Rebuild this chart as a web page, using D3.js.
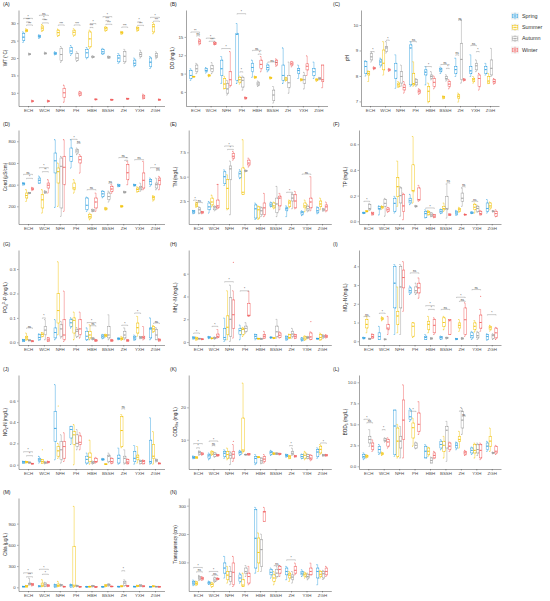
<!DOCTYPE html>
<html><head><meta charset="utf-8">
<script src="https://cdn.jsdelivr.net/npm/d3@7"></script>
<style>body{margin:0;background:#fff}svg{display:block}text{font-family:"Liberation Sans",Arial,sans-serif}</style>
</head><body><svg id="c" width="550" height="601"></svg>
<script>
const sites = ["ECH","WCH","NFH","PH","HBH","BSSH","ZH","YXH","ZGH"];
const seasons = ["Spring","Summer","Autumn","Winter"];
const seasonColors = ["#2E9FDF","#F2C200","#9A9A9A","#F05A5A"];

// each box: [low whisker, Q1, median, Q3, high whisker] per site
const wtSp=[[24.5,25.1,26.0,27.1,27.5],[25.6,25.9,26.2,26.5,26.7],[20.9,21.1,21.3,21.6,21.8],[20.8,21.3,22.0,23.0,23.6],[19.8,20.2,21.5,22.5,23.0],[21.0,21.2,21.8,22.5,22.8],[18.5,18.9,20.0,20.8,21.3],[17.5,17.9,18.5,19.4,20.0],[17.0,17.5,18.8,20.0,20.4]];
const wtSu=[[27.5,27.7,27.9,28.1,28.4],[27.6,28.0,28.6,29.2,29.6],[26.2,26.5,27.3,28.0,28.3],[26.3,26.6,27.4,28.0,28.4],[22.8,23.2,25.5,27.5,28.0],[27.7,27.9,28.4,28.8,29.1],[26.8,27.0,27.3,27.5,27.7],[27.7,28.0,28.4,28.8,29.0],[27.0,27.5,29.0,29.7,30.2]];
const wtAu=[[20.8,21.0,21.1,21.2,21.4],[21.0,21.2,21.3,21.5,21.7],[18.8,19.3,21.0,22.8,23.3],[19.0,19.3,20.0,21.3,21.8],[20.0,20.2,20.3,20.5,20.7],[19.9,20.0,20.2,20.4,20.6],[18.4,18.9,20.5,21.8,22.5],[20.0,20.5,21.0,21.5,22.3],[19.8,20.2,20.6,21.3,21.8]];
const wtWi=[[7.3,7.5,7.6,7.7,7.9],[7.3,7.5,7.6,7.7,7.9],[7.3,8.7,10.0,11.3,12.2],[9.1,9.3,9.7,10.2,10.4],[7.9,8.0,8.1,8.2,8.3],[7.8,7.9,8.0,8.1,8.2],[8.1,8.2,8.3,8.4,8.5],[8.2,8.4,8.8,9.3,9.6],[7.8,7.9,8.0,8.1,8.3]];

const doSp=[[7.9,8.2,8.7,9.5,9.8],[9.1,9.3,9.5,9.8,10.0],[7.4,8.7,9.8,11.2,11.8],[7.4,7.9,15.4,15.6,17.2],[8.4,9.3,10.0,10.7,11.2],[9.3,9.6,10.0,10.4,10.6],[7.4,7.9,8.7,10.4,13.2],[8.2,9.0,9.5,9.8,10.4],[8.2,8.7,9.3,9.8,10.9]];
const doSu=[[8.4,8.45,8.5,8.55,8.6],[8.5,8.6,8.7,8.8,8.9],[6.5,6.6,7.3,8.2,8.6],[7.3,7.6,8.0,8.4,8.6],[8.2,8.3,8.4,8.5,8.6],[8.1,8.2,8.3,8.4,8.5],[7.8,7.9,8.1,8.3,8.4],[7.8,7.9,8.0,8.1,8.2],[7.7,7.9,8.0,8.1,8.2]];
const doAu=[[9.0,9.3,9.8,10.4,10.7],[9.0,9.3,9.8,10.3,10.8],[5.5,5.8,6.5,7.4,7.9],[6.3,6.8,7.9,8.4,8.6],[6.9,7.1,7.3,7.6,7.8],[4.2,4.6,5.5,6.3,6.9],[5.8,6.7,7.5,8.7,10.9],[6.5,7.4,8.0,8.7,9.2],[8.0,8.1,8.2,8.3,8.4]];
const doWi=[[13.7,13.9,14.2,14.5,14.7],[13.7,13.8,13.9,14.1,14.2],[6.8,7.1,8.0,9.3,12.6],[4.8,4.9,5.0,5.1,5.2],[9.3,9.8,10.5,11.2,11.8],[10.2,10.4,10.8,11.2,11.4],[10.1,10.4,10.6,10.9,11.0],[8.7,9.6,10.2,10.6,11.9],[6.7,7.7,8.0,10.4,10.4]];

const phSp=[[8.0,8.1,8.37,8.56,8.6],[8.35,8.43,8.55,8.63,8.7],[7.52,7.91,8.2,8.5,8.83],[7.6,7.65,9.1,9.22,9.35],[7.65,8.04,8.15,8.24,8.37],[8.1,8.17,8.24,8.3,8.35],[7.98,8.1,8.25,8.37,8.7],[7.98,8.1,8.2,8.37,8.83],[8.04,8.1,8.25,8.37,8.5]];
const phSu=[[7.78,8.04,8.1,8.17,8.2],[8.04,8.24,8.5,9.02,9.35],[7.55,7.58,7.65,7.72,7.78],[7.6,7.65,7.7,8.1,8.56],[6.95,7.0,7.4,7.58,7.72],[7.1,7.13,7.17,7.2,7.22],[6.98,7.13,7.2,7.26,7.33],[7.72,7.78,7.85,7.91,7.98],[7.7,7.72,7.8,7.98,8.1]];
const phAu=[[8.55,8.63,8.75,8.89,8.95],[8.9,8.96,9.1,9.15,9.35],[7.6,7.72,7.98,8.17,8.43],[7.6,7.65,7.75,7.85,7.9],[7.85,7.91,7.98,8.04,8.17],[7.8,7.85,7.9,7.98,8.05],[7.72,7.85,8.65,9.28,10.2],[8.17,8.24,8.4,8.5,8.63],[7.98,8.04,8.3,8.63,9.09]];
const phWi=[[8.25,8.28,8.3,8.33,8.36],[8.18,8.21,8.24,8.27,8.3],[7.33,7.45,7.55,7.65,7.78],[7.28,7.33,7.4,7.45,7.5],[7.5,7.58,7.75,7.91,8.0],[7.5,7.58,7.68,7.78,7.85],[7.8,7.82,7.85,7.88,7.9],[7.45,7.58,7.9,8.04,8.1],[7.68,7.72,7.78,7.85,7.9]];

const condSp=[[395,400,410,415,420],[410,415,440,461,480],[190,508,620,692,815],[554,615,660,738,815],[154,169,210,277,285],[280,292,315,338,345],[380,384,392,400,405],[385,390,395,400,405],[385,400,430,446,461]];
const condSu=[[246,277,300,323,354],[138,185,260,307,354],[200,415,520,554,600],[323,354,370,415,446],[77,92,105,123,138],[165,169,177,185,190],[190,195,200,205,210],[330,338,355,369,380],[250,261,280,292,300]];
const condAu=[[315,320,323,326,330],[320,323,330,338,345],[108,185,569,646,661],[677,692,710,723,738],[150,154,160,169,175],[240,261,290,323,340],[320,325,330,335,340],[338,354,370,384,415],[354,369,400,415,461]];
const condWi=[[345,354,360,369,375],[323,369,395,415,446],[154,400,560,661,815],[507,600,630,661,677],[154,185,240,277,323],[320,338,360,384,400],[400,446,510,585,615],[354,369,440,508,615],[354,400,440,461,477]];

const tnSp=[[1.2,1.27,1.4,1.5,1.55],[1.27,1.6,1.9,2.3,2.45],[4.1,4.3,5.0,5.5,5.7],[4.8,4.9,5.3,5.5,5.7],[0.6,0.75,1.7,2.1,2.3],[1.9,1.95,2.1,2.3,2.4],[0.9,1.5,1.7,1.8,2.0],[1.0,1.1,1.3,1.4,1.5],[1.2,1.3,1.5,1.8,1.9]];
const tnSu=[[1.85,1.95,2.1,2.3,2.4],[1.9,2.1,2.4,2.8,3.1],[1.6,1.7,3.8,4.7,5.2],[3.2,3.2,3.4,5.9,8.8],[0.6,0.75,1.6,1.9,2.0],[1.7,1.8,2.0,2.3,2.4],[1.8,1.95,2.3,2.5,2.6],[1.4,1.8,2.0,2.3,2.6],[1.6,1.95,2.2,2.5,2.8]];
const tnAu=[[1.2,1.27,1.6,1.8,1.9],[1.5,1.6,1.8,1.95,2.0],[1.1,4.7,5.8,6.1,6.6],[5.5,5.55,5.6,5.65,5.7],[0.9,1.1,1.5,1.8,1.9],[0.9,1.3,2.2,2.8,4.0],[1.7,2.5,2.8,3.15,3.3],[1.4,1.5,1.7,1.95,2.1],[1.45,1.5,1.6,1.7,1.75]];
const tnWi=[[1.2,1.27,1.35,1.4,1.45],[1.7,1.8,2.0,2.6,4.2],[6.7,6.9,7.1,7.4,7.6],[6.0,6.2,6.4,6.7,6.9],[0.9,1.1,1.8,2.3,3.3],[1.6,2.0,2.8,3.0,3.3],[1.7,1.8,2.5,3.15,3.5],[1.5,1.8,2.4,2.8,5.0],[1.4,1.5,1.9,2.1,2.4]];

const tpSp=[[0.06,0.062,0.066,0.07,0.072],[0.05,0.091,0.1,0.117,0.12],[0.065,0.078,0.14,0.18,0.195],[0.13,0.143,0.16,0.18,0.21],[0.026,0.03,0.06,0.078,0.09],[0.06,0.065,0.078,0.09,0.095],[0.045,0.052,0.065,0.078,0.085],[0.06,0.062,0.066,0.072,0.075],[0.065,0.078,0.1,0.143,0.17]];
const tpSu=[[0.072,0.075,0.078,0.081,0.084],[0.095,0.104,0.11,0.115,0.12],[0.117,0.195,0.27,0.34,0.47],[0.143,0.23,0.24,0.44,0.66],[0.048,0.052,0.07,0.078,0.085],[0.078,0.09,0.1,0.117,0.143],[0.07,0.078,0.09,0.1,0.11],[0.065,0.091,0.11,0.13,0.143],[0.09,0.104,0.12,0.143,0.15]];
const tpAu=[[0.085,0.09,0.1,0.13,0.14],[0.04,0.117,0.14,0.17,0.18],[0.04,0.143,0.2,0.26,0.27],[0.11,0.114,0.117,0.12,0.125],[0.035,0.04,0.05,0.065,0.07],[0.026,0.091,0.1,0.195,0.29],[0.117,0.156,0.18,0.22,0.26],[0.07,0.078,0.1,0.117,0.125],[0.072,0.075,0.078,0.081,0.084]];
const tpWi=[[0.048,0.052,0.06,0.07,0.072],[0.07,0.078,0.09,0.104,0.11],[0.013,0.078,0.12,0.21,0.22],[0.156,0.165,0.17,0.26,0.28],[0.028,0.03,0.04,0.052,0.055],[0.045,0.047,0.052,0.057,0.06],[0.047,0.05,0.052,0.055,0.058],[0.048,0.052,0.06,0.078,0.085],[0.035,0.04,0.06,0.078,0.09]];

const poSp=[[0.003,0.004,0.008,0.011,0.012],[0.008,0.011,0.02,0.031,0.035],[0.011,0.018,0.04,0.059,0.093],[0.059,0.065,0.08,0.093,0.1],[0.008,0.011,0.025,0.045,0.059],[0.015,0.018,0.025,0.03,0.033],[0.011,0.013,0.015,0.017,0.02],[0.008,0.011,0.018,0.025,0.03],[0.011,0.018,0.055,0.059,0.1]];
const poSu=[[0.008,0.011,0.018,0.025,0.038],[0.022,0.025,0.032,0.038,0.04],[0.031,0.079,0.13,0.2,0.33],[0.011,0.038,0.09,0.1,0.124],[0.011,0.018,0.03,0.045,0.072],[0.022,0.025,0.028,0.031,0.034],[0.008,0.012,0.015,0.018,0.025],[0.025,0.038,0.06,0.079,0.107],[0.04,0.045,0.055,0.065,0.07]];
const poAu=[[0.005,0.006,0.008,0.01,0.011],[0.011,0.031,0.05,0.065,0.093],[0.018,0.025,0.055,0.072,0.086],[0.02,0.025,0.045,0.052,0.06],[0.01,0.012,0.015,0.018,0.02],[0.011,0.018,0.03,0.065,0.113],[0.011,0.018,0.03,0.045,0.059],[0.015,0.017,0.02,0.023,0.025],[0.011,0.011,0.03,0.052,0.06]];
const poWi=[[0.002,0.003,0.005,0.006,0.007],[0.004,0.005,0.01,0.018,0.02],[0.004,0.011,0.03,0.093,0.21],[0.018,0.031,0.055,0.093,0.124],[0.004,0.005,0.008,0.01,0.012],[0.004,0.005,0.008,0.01,0.012],[0.004,0.005,0.008,0.01,0.012],[0.01,0.015,0.02,0.025,0.065],[0.004,0.006,0.01,0.013,0.015]];

const nhSp=[[0.25,0.29,0.37,0.44,0.48],[0.3,0.35,0.4,0.47,0.5],[0.06,0.2,0.4,1.2,2.1],[0.2,0.65,1.0,1.2,1.5],[0.2,0.3,0.5,0.65,0.7],[0.33,0.36,0.4,0.44,0.47],[0.15,0.2,0.35,0.5,0.55],[0.1,0.12,0.25,0.35,0.4],[0.24,0.27,0.3,0.33,0.36]];
const nhSu=[[0.15,0.2,0.3,0.41,0.45],[0.27,0.3,0.32,0.34,0.37],[0.2,0.65,1.3,2.3,4.5],[0.5,0.65,1.1,1.2,1.3],[0.24,0.27,0.3,0.33,0.36],[0.3,0.33,0.35,0.38,0.4],[0.3,0.35,0.4,0.65,0.7],[0.15,0.2,0.35,0.5,0.55],[0.15,0.2,0.4,0.65,0.8]];
const nhAu=[[0.24,0.27,0.3,0.33,0.36],[0.25,0.3,0.35,0.4,0.45],[0.06,0.5,2.0,3.9,5.0],[0.8,0.95,1.2,1.4,1.7],[0.22,0.25,0.28,0.31,0.34],[0.35,0.5,0.9,1.4,2.0],[0.35,0.5,0.7,0.95,1.2],[0.3,0.35,0.4,0.45,0.5],[0.3,0.4,0.5,0.6,0.65]];
const nhWi=[[0.2,0.22,0.25,0.28,0.3],[0.35,0.4,0.5,0.7,1.1],[0.35,1.2,2.4,3.7,4.5],[2.25,2.3,2.35,3.4,4.45],[0.3,0.35,0.5,0.65,0.95],[0.35,0.4,0.6,0.8,0.9],[0.3,0.35,0.5,0.65,0.7],[0.2,0.25,0.45,0.8,0.9],[0.35,0.4,0.5,0.6,0.65]];

const no3Sp=[[0.12,0.14,0.17,0.2,0.22],[0.09,0.09,0.25,0.45,0.8],[0.36,1.78,3.1,4.0,4.1],[2.5,2.58,2.7,2.85,2.95],[0.09,0.09,0.2,0.27,0.36],[0.1,0.12,0.2,0.25,0.28],[0.08,0.1,0.12,0.14,0.16],[0.09,0.18,0.3,0.45,0.53],[0.05,0.09,0.25,0.36,0.4]];
const no3Su=[[0.45,0.71,0.9,1.16,1.33],[1.1,1.16,1.2,1.25,1.3],[0.45,0.9,1.35,1.6,2.9],[0.2,0.27,0.8,0.98,1.0],[0.45,0.62,0.9,1.07,1.33],[0.62,0.8,1.0,1.25,1.33],[0.53,0.71,0.85,0.98,1.16],[0.5,0.62,0.8,0.98,1.1],[0.55,0.62,0.72,0.8,0.85]];
const no3Au=[[0.09,0.11,0.13,0.15,0.17],[0.07,0.08,0.1,0.12,0.13],[0.36,1.78,2.9,4.0,4.1],[2.5,2.58,2.7,2.9,3.1],[0.1,0.12,0.15,0.18,0.2],[0.12,0.15,0.18,0.21,0.23],[0.1,0.12,0.15,0.18,0.2],[0.09,0.18,0.3,0.45,0.53],[0.1,0.15,0.3,0.35,0.4]];
const no3Wi=[[0.15,0.18,0.25,0.35,0.4],[0.36,0.62,0.7,0.9,1.33],[1.6,2.85,3.4,3.8,4.25],[2.3,2.58,2.85,3.1,3.38],[0.36,0.45,0.85,1.16,1.25],[0.36,0.36,1.1,1.16,1.16],[0.27,0.36,1.15,1.78,2.05],[0.53,0.7,1.0,1.4,1.7],[0.1,0.18,0.45,0.7,0.75]];

const no2Sp=[[0.012,0.016,0.025,0.03,0.035],[0.016,0.03,0.045,0.06,0.078],[0.047,0.22,0.34,0.5,0.75],[0.19,0.25,0.33,0.36,0.36],[0.006,0.016,0.05,0.08,0.11],[0.04,0.045,0.05,0.055,0.06],[0.006,0.016,0.06,0.09,0.156],[0.006,0.03,0.06,0.125,0.18],[0.006,0.016,0.03,0.23,0.44]];
const no2Su=[[0.015,0.02,0.025,0.03,0.035],[0.012,0.016,0.03,0.047,0.05],[0.06,0.08,0.13,0.17,0.2],[0.0,0.19,0.28,0.31,0.375],[0.006,0.03,0.07,0.11,0.23],[0.002,0.004,0.005,0.006,0.008],[0.16,0.17,0.32,0.45,0.47],[0.016,0.047,0.07,0.09,0.17],[0.006,0.06,0.08,0.19,0.31]];
const no2Au=[[0.012,0.016,0.02,0.025,0.03],[0.008,0.012,0.02,0.025,0.03],[0.016,0.047,0.14,0.22,0.28],[0.14,0.17,0.2,0.28,0.33],[0.006,0.012,0.02,0.03,0.035],[0.02,0.03,0.08,0.09,0.11],[0.006,0.016,0.06,0.08,0.14],[0.006,0.012,0.03,0.04,0.045],[0.025,0.03,0.04,0.05,0.055]];
const no2Wi=[[0.005,0.007,0.01,0.013,0.015],[0.015,0.02,0.025,0.03,0.035],[0.03,0.06,0.17,0.22,0.3],[0.14,0.19,0.21,0.27,0.3],[0.016,0.025,0.03,0.06,0.07],[0.01,0.016,0.03,0.06,0.065],[0.006,0.01,0.025,0.05,0.055],[0.006,0.01,0.03,0.04,0.045],[0.006,0.008,0.012,0.016,0.02]];

const codSp=[[4.1,4.3,4.5,4.8,5.0],[3.8,4.3,5.0,5.4,5.9],[4.3,4.8,5.8,6.4,6.9],[5.1,5.4,6.0,6.4,6.7],[2.3,2.8,4.2,4.8,5.4],[5.1,5.4,6.0,6.4,6.7],[4.6,4.8,5.1,5.4,5.6],[4.1,4.3,4.8,5.4,5.6],[4.3,4.8,6.2,7.0,7.5]];
const codSu=[[4.2,4.3,4.5,4.7,4.8],[5.2,5.4,5.9,6.4,6.6],[3.8,4.3,5.4,6.4,7.4],[5.9,6.4,6.8,16.7,27.5],[4.4,4.5,4.6,4.7,4.8],[5.4,5.5,5.7,5.9,6.0],[4.1,4.3,4.7,5.0,5.2],[3.8,4.3,5.2,5.9,6.4],[5.5,5.9,7.0,8.0,8.5]];
const codAu=[[5.2,5.4,6.0,6.4,6.6],[4.6,4.8,5.4,5.9,6.1],[2.3,4.3,5.2,5.9,6.4],[5.2,5.3,5.4,5.5,5.6],[2.6,2.8,3.5,4.3,4.5],[5.4,5.5,5.7,5.9,6.0],[5.1,5.4,5.8,6.4,7.4],[4.1,4.3,4.8,5.4,5.6],[4.9,5.0,5.2,5.4,5.5]];
const codWi=[[5.2,5.4,5.6,5.9,6.0],[4.9,5.0,5.2,5.4,5.5],[3.3,4.3,5.5,6.4,8.5],[5.2,5.3,5.5,5.7,5.8],[2.8,3.3,4.0,4.8,5.4],[5.3,5.4,5.6,5.8,5.9],[4.6,4.7,4.9,5.1,5.2],[3.5,3.8,4.3,5.2,5.4],[4.9,5.0,5.2,5.4,5.5]];

const bodSp=[[0.8,0.99,1.15,1.39,1.6],[1.4,1.59,2.0,2.38,2.6],[1.2,1.4,4.8,6.7,6.7],[5.35,5.55,5.9,6.7,6.9],[1.0,1.0,1.8,2.38,2.58],[1.98,2.18,2.6,2.98,3.17],[1.98,2.18,2.5,2.78,2.9],[1.4,1.59,1.9,2.18,2.3],[1.78,1.98,2.4,2.78,2.98]];
const bodSu=[[1.0,1.1,1.2,1.3,1.4],[1.3,1.4,1.5,1.6,1.7],[1.0,1.2,3.0,4.56,5.0],[2.4,3.37,4.6,5.16,5.75],[1.2,1.39,1.8,2.18,2.3],[1.0,1.78,2.5,2.98,3.57],[2.18,2.98,3.2,3.57,4.17],[1.0,1.59,1.9,2.58,2.78],[1.78,2.38,3.0,3.57,4.56]];
const bodAu=[[2.38,2.78,3.2,3.57,4.37],[2.9,3.0,3.1,3.3,3.4],[1.0,2.18,3.0,3.57,4.76],[2.1,2.18,2.5,2.78,2.9],[0.4,0.4,0.7,1.0,1.1],[0.6,2.18,4.3,4.76,5.36],[3.8,4.56,5.5,6.55,6.9],[1.3,1.59,2.0,2.58,2.78],[1.5,1.55,1.6,1.65,1.7]];
const bodWi=[[1.78,1.98,2.4,2.78,3.17],[2.18,2.4,2.9,3.2,3.4],[1.0,3.2,5.5,7.9,9.7],[3.8,4.17,5.0,6.35,7.7],[0.9,1.0,1.3,1.6,1.8],[1.78,1.98,2.4,2.78,2.9],[1.3,1.39,1.6,1.78,1.9],[0.8,1.0,1.9,2.58,2.78],[1.4,1.59,1.8,2.38,2.5]];

const chlaSp=[[3,6,10,14,18],[5,8,15,20,25],[2,5,20,38,45],[3,5,25,38,45],[2,4,8,12,15],[2,4,8,12,15],[3,5,10,15,18],[3,5,10,15,18],[2,4,8,12,15]];
const chlaSu=[[2,5,15,25,30],[8,15,30,60,108],[8,14,25,47,85],[0,14,30,580,1145],[3,6,10,14,18],[8,15,25,35,40],[5,8,15,20,25],[8,12,20,28,32],[5,8,15,20,25]];
const chlaAu=[[30,38,50,60,130],[10,15,35,60,70],[15,22,30,38,45],[8,12,20,28,32],[6,10,18,25,30],[15,22,35,45,55],[15,28,60,85,108],[10,15,25,35,40],[3,6,10,14,18]];
const chlaWi=[[20,28,40,52,58],[10,15,25,35,40],[3,6,10,14,18],[2,5,8,11,14],[2,4,6,8,10],[4,8,12,16,20],[8,12,18,24,28],[5,10,15,20,24],[2,4,8,12,14]];

const trSp=[[18,21,27,33,38],[22,24,28,31,34],[45,62,80,98,121],[27,33,45,56,62],[62,80,185,286,294],[45,56,65,74,80],[39,56,68,80,86],[50,56,62,68,74],[21,45,68,80,92]];
const trSu=[[18,21,26,31,34],[12,15,22,27,30],[27,39,55,68,86],[15,15,20,39,62],[68,98,135,186,204],[21,33,45,56,68],[33,45,55,62,68],[45,50,56,62,66],[45,50,58,68,72]];
const trAu=[[36,39,45,50,54],[30,33,38,45,48],[21,33,50,68,86],[50,62,68,80,89],[68,86,145,180,200],[45,50,62,74,86],[27,39,48,56,68],[39,45,50,56,62],[40,45,60,68,72]];
const trWi=[[36,39,43,47,50],[38,40,42,44,46],[15,21,65,98,121],[21,27,50,62,86],[245,245,278,280,294],[50,62,75,86,89],[56,62,72,86,98],[56,56,68,80,98],[50,56,68,80,86]];

// significance brackets: [site, season from, season to, value, label]
const wtBr=[[0,0,3,31.4,"*"],[0,1,2,30.4,"***"],[0,1,3,29.5,"***"],[1,0,3,32.3,"ns"],[1,1,2,31.2,"*"],[1,1,3,30.1,"***"],[2,1,3,29.5,"***"],[3,1,3,29.5,"***"],[4,1,3,29.9,"*"],[4,1,2,28.8,"***"],[5,0,3,31.9,"*"],[5,1,2,30.8,"***"],[5,1,3,29.7,"***"],[6,1,3,28.9,"***"],[7,1,2,30.4,"*"],[7,1,3,29.4,"***"],[8,0,3,31.7,"*"],[8,1,3,30.6,"***"]];
const doBr=[[0,0,3,15.8,"**"],[0,2,3,15.2,"ns"],[1,0,3,14.8,"*"],[1,1,3,14.3,"***"],[2,0,3,13.1,"*"],[3,0,3,18.8,"*"],[3,1,2,9.3,"*"],[4,0,3,12.8,"ns"],[4,2,3,12.2,"*"],[5,0,3,10.9,"ns"]];
const phBr=[[0,2,3,8.96,"*"],[1,2,3,9.41,"*"],[3,0,2,9.35,"ns"],[4,0,2,8.37,"*"],[5,0,3,8.45,"ns"],[5,2,3,8.3,"*"],[6,1,2,10.2,"ns"],[6,0,1,8.83,"ns"],[7,0,2,9.2,"ns"],[7,2,3,8.96,"*"]];
const condBr=[[0,0,3,495,"ns"],[0,1,3,458,"*"],[1,0,3,557,"*"],[1,1,3,520,"**"],[3,0,2,818,"*"],[3,2,3,782,"ns"],[4,0,3,354,"ns"],[5,2,3,415,"ns"],[6,0,3,650,"ns"],[6,2,3,625,"*"],[7,0,3,631,"ns"],[8,0,3,557,"*"],[8,2,3,532,"ns"]];
const tnBr=[[0,0,1,2.6,"*"],[0,1,3,2.35,"ns"],[2,0,3,8.15,"*"],[2,1,3,7.8,"*"],[6,0,2,3.4,"*"],[7,0,3,5.27,"ns"]];
const tpBr=[[0,0,2,0.156,"*"],[4,0,3,0.104,"*"],[5,2,3,0.3,"ns"],[6,2,3,0.27,"ns"],[7,0,2,0.156,"ns"]];
const poBr=[[0,1,3,0.059,"ns"],[1,1,2,0.1,"*"],[4,0,3,0.081,"*"],[4,1,3,0.068,"ns"],[6,1,3,0.07,"*"],[7,0,2,0.12,"*"],[8,1,3,0.079,"ns"]];
const nhBr=[[0,0,2,0.79,"*"],[1,1,3,1.38,"*"],[2,0,3,5.3,"*"],[3,0,3,4.5,"*"]];
const no3Br=[[0,0,2,1.33,"ns"],[1,0,2,1.5,"*"],[3,0,3,3.65,"ns"],[4,0,3,1.9,"*"],[4,1,3,1.7,"*"],[5,0,3,1.7,"ns"],[6,0,3,2.35,"*"],[6,1,3,2.14,"ns"],[7,0,3,2.76,"ns"],[8,0,3,1.42,"*"]];
const no2Br=[[0,0,3,0.122,"*"],[0,1,3,0.085,"*"],[6,1,2,0.525,"ns"]];
const codBr=[[0,0,3,8.8,"*"],[0,1,2,7.5,"*"],[1,0,3,9.6,"*"],[1,1,2,8.2,"ns"],[6,1,2,8.2,"*"],[8,1,3,9.0,"*"]];
const bodBr=[[0,0,2,5.6,"*"],[0,1,3,5.2,"ns"],[1,1,2,4.37,"*"],[3,0,2,6.55,"*"],[6,1,2,6.6,"*"],[6,2,3,6.0,"ns"]];
const chlaBr=[[0,0,3,205,"*"],[0,1,3,150,"***"],[1,0,3,255,"*"],[1,1,3,185,"*"],[6,1,2,235,"*"]];
const trBr=[[0,0,3,82,"*"],[0,1,3,67,"ns"],[1,0,3,68,"*"],[1,1,3,55,"ns"],[5,1,3,89,"ns"],[6,0,3,109,"*"]];

// individual outlying samples: [site, season, value]
const tnOut=[[1,3,4.2]], nhOut=[[2,3,7.0],[7,3,1.8]], no3Out=[[7,3,2.4]], no2Out=[[1,1,0.14],[2,1,0.55]], codOut=[[2,3,9.5]];

const panels=[
 {lab:"(A)",title:[["WT (°C)"]],data:[wtSp,wtSu,wtAu,wtWi],domain:[6.2,33.8],ticks:[10,15,20,25,30],fmt:"d",br:wtBr,out:[],row:0,col:0},
 {lab:"(B)",title:[["DO (mg/L)"]],data:[doSp,doSu,doAu,doWi],domain:[3.7,19.4],ticks:[6,9,12,15],fmt:"d",br:doBr,out:[],row:0,col:1},
 {lab:"(C)",title:[["pH"]],data:[phSp,phSu,phAu,phWi],domain:[6.82,10.59],ticks:[7,8,9,10],fmt:"d",br:phBr,out:[],row:0,col:2},
 {lab:"(D)",title:[["Cond (μS/cm)"]],data:[condSp,condSu,condAu,condWi],domain:[37,904],ticks:[200,400,600,800],fmt:"d",br:condBr,out:[],row:1,col:0},
 {lab:"(E)",title:[["TN (mg/L)"]],data:[tnSp,tnSu,tnAu,tnWi],domain:[0.14,9.79],ticks:[2.5,5,7.5],fmt:".1f",br:tnBr,out:tnOut,row:1,col:1},
 {lab:"(F)",title:[["TP (mg/L)"]],data:[tpSp,tpSu,tpAu,tpWi],domain:[-0.021,0.711],ticks:[0,0.2,0.4,0.6],fmt:".1f",br:tpBr,out:[],row:1,col:2},
 {lab:"(G)",title:[["PO"],["4","sub"],["3-","sup"],["-P (mg/L)"]],data:[poSp,poSu,poAu,poWi],domain:[-0.011,0.378],ticks:[0,0.1,0.2,0.3],fmt:".1f",br:poBr,out:[],row:2,col:0},
 {lab:"(H)",title:[["NH"],["4","sub"],["+","sup"],["-N (mg/L)"]],data:[nhSp,nhSu,nhAu,nhWi],domain:[-0.26,8.08],ticks:[0,2,4,6],fmt:"d",br:nhBr,out:nhOut,row:2,col:1},
 {lab:"(I)",title:[["NO"],["3","sub"],["-N (mg/L)"]],data:[no3Sp,no3Su,no3Au,no3Wi],domain:[-0.2,4.87],ticks:[0,1,2,3,4],fmt:"d",br:no3Br,out:no3Out,row:2,col:2},
 {lab:"(J)",title:[["NO"],["2","sub"],["-N (mg/L)"]],data:[no2Sp,no2Su,no2Au,no2Wi],domain:[-0.04,0.84],ticks:[0,0.2,0.4,0.6],fmt:".1f",br:no2Br,out:no2Out,row:3,col:0},
 {lab:"(K)",title:[["COD"],["Mn","sub"],[" (mg/L)"]],data:[codSp,codSu,codAu,codWi],domain:[0.94,30.0],ticks:[10,20],fmt:"d",br:codBr,out:codOut,row:3,col:1},
 {lab:"(L)",title:[["BOD"],["5","sub"],[" (mg/L)"]],data:[bodSp,bodSu,bodAu,bodWi],domain:[-0.32,10.87],ticks:[0,2.5,5,7.5,10],fmt:".1f",br:bodBr,out:[],row:3,col:2},
 {lab:"(M)",title:[["Chla (μg/L)"]],data:[chlaSp,chlaSu,chlaAu,chlaWi],domain:[-52,1262],ticks:[0,300,600,900],fmt:"d",br:chlaBr,out:[],row:4,col:0},
 {lab:"(N)",title:[["Transparency (cm)"]],data:[trSp,trSu,trAu,trWi],domain:[-1,327],ticks:[100,200,300],fmt:"d",br:trBr,out:[],row:4,col:1}
];

const rowTop=[10,130,250,375,498], rowBot=[106,224,345,469,591];
const colLeft=[[18.5,186,361],[18.5,188.7,359]], colRight=[[164.5,327.5,499],[164.5,331.3,501]];
const labX=[3,170,333];

const svg=d3.select("#c");
svg.append("rect").attr("width",550).attr("height",601).attr("fill","#fff");

panels.forEach(p=>{
  const ri=p.row===0?0:1;
  const L=colLeft[ri][p.col], R=colRight[ri][p.col], T=rowTop[p.row], B=rowBot[p.row];
  const x=d3.scalePoint().domain(sites).range([L,R]).padding(0.6);
  const step=x.step();
  const inner=d3.scaleBand().domain([0,1,2,3]).range([-0.375*step,0.375*step]);
  const bw=inner.bandwidth();
  const y=d3.scaleLinear().domain(p.domain).range([B,T]);
  const g=svg.append("g");

  g.append("text").attr("x",labX[p.col]).attr("y",T-4).attr("font-size",5).attr("fill","#222").text(p.lab);

  const ya=g.append("g").attr("transform",`translate(${L},0)`)
    .call(d3.axisLeft(y).tickValues(p.ticks).tickFormat(d3.format(p.fmt)).tickSize(1.5).tickSizeOuter(0).tickPadding(1.2));
  const xa=g.append("g").attr("transform",`translate(0,${B})`)
    .call(d3.axisBottom(x).tickSize(1.5).tickSizeOuter(0).tickPadding(1.5));
  [ya,xa].forEach(a=>{
    a.select(".domain").attr("stroke","#333").attr("stroke-width",0.45);
    a.selectAll(".tick line").attr("stroke","#333").attr("stroke-width",0.4);
    a.selectAll(".tick text").attr("font-size",4.4).attr("fill","#4d4d4d").attr("font-family","Liberation Sans, Arial, sans-serif");
  });

  const tt=g.append("text").attr("transform",`translate(${L-12},${(T+B)/2}) rotate(-90)`)
    .attr("text-anchor","middle").attr("font-size",4.6).attr("fill","#222");
  let shift=0;
  p.title.forEach(seg=>{
    const mode=seg[1]||"n";
    const target = mode==="sub"?1.1:(mode==="sup"?-1.5:0);
    const ts=tt.append("tspan").text(seg[0]).attr("dy",target-shift);
    if(mode!=="n") ts.attr("font-size",3.4);
    shift=target;
  });

  p.data.forEach((arr,si)=>{
    const col=seasonColors[si];
    arr.forEach((b,i)=>{
      const cx=x(sites[i])+inner(si)+bw/2;
      const w=bw*0.86;
      const bg=g.append("g");
      bg.append("line").attr("x1",cx).attr("x2",cx).attr("y1",y(b[0])).attr("y2",y(b[1])).attr("stroke",col).attr("stroke-width",0.45);
      bg.append("line").attr("x1",cx).attr("x2",cx).attr("y1",y(b[3])).attr("y2",y(b[4])).attr("stroke",col).attr("stroke-width",0.45);
      const yt=y(b[3]), yb=y(b[1]);
      const h=Math.max(yb-yt,0.7);
      bg.append("rect").attr("x",cx-w/2).attr("y",(yt+yb)/2-h/2).attr("width",w).attr("height",h)
        .attr("fill","#fff").attr("fill-opacity",0.6).attr("stroke",col).attr("stroke-width",0.45);
      bg.append("line").attr("x1",cx-w/2).attr("x2",cx+w/2).attr("y1",y(b[2])).attr("y2",y(b[2])).attr("stroke",col).attr("stroke-width",0.7);
      const offs=[-0.25,0.3,-0.1,0.25,-0.3];
      b.forEach((v,k)=>{
        bg.append("circle").attr("cx",cx+offs[k]*w).attr("cy",y(v)).attr("r",0.55).attr("fill",col).attr("fill-opacity",0.75);
      });
    });
  });

  p.out.forEach(o=>{
    const cx=x(sites[o[0]])+inner(o[1])+bw/2;
    g.append("circle").attr("cx",cx).attr("cy",y(o[2])).attr("r",0.6).attr("fill",seasonColors[o[1]]).attr("fill-opacity",0.8);
  });

  p.br.forEach(b=>{
    const x1=x(sites[b[0]])+inner(b[1])+bw/2, x2=x(sites[b[0]])+inner(b[2])+bw/2, yy=y(b[3]);
    g.append("path").attr("d",`M${x1},${yy+0.8}V${yy}H${x2}V${yy+0.8}`).attr("fill","none").attr("stroke","#555").attr("stroke-width",0.3);
    g.append("text").attr("x",(x1+x2)/2).attr("y",yy-0.4).attr("text-anchor","middle").attr("font-size",3.0).attr("fill","#333").text(b[4]);
  });
});

const lg=svg.append("g");
const legY=d3.scalePoint().domain(seasons).range([16,50]);
seasons.forEach((s,i)=>{
  const cy=legY(s), col=seasonColors[i], kx=515;
  lg.append("rect").attr("x",kx-4).attr("y",cy-3.5).attr("width",8).attr("height",7).attr("fill","#f2f2f2");
  lg.append("line").attr("x1",kx).attr("x2",kx).attr("y1",cy-3.3).attr("y2",cy+3.3).attr("stroke",col).attr("stroke-width",0.5);
  lg.append("rect").attr("x",kx-2.8).attr("y",cy-1.8).attr("width",5.6).attr("height",3.6).attr("fill","#fff").attr("stroke",col).attr("stroke-width",0.5);
  lg.append("line").attr("x1",kx-2.8).attr("x2",kx+2.8).attr("y1",cy).attr("y2",cy).attr("stroke",col).attr("stroke-width",0.6);
  lg.append("circle").attr("cx",kx).attr("cy",cy).attr("r",0.7).attr("fill",col);
  lg.append("text").attr("x",kx+7).attr("y",cy+1.8).attr("font-size",5.4).attr("fill","#333").text(s);
});
</script></body></html>
